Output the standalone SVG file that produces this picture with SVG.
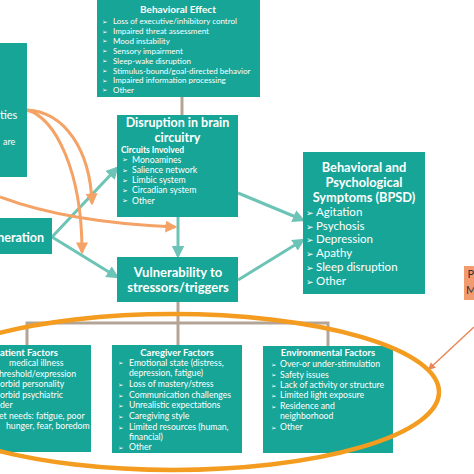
<svg xmlns="http://www.w3.org/2000/svg" width="474" height="474" viewBox="0 0 474 474">
<style>
.box{fill:#17a597}
.t{fill:#fff;font-family:Lato,"Open Sans","Liberation Sans",sans-serif}
.b{font-weight:bold}
.bul{fill:#fff;font-family:"DejaVu Sans",sans-serif}
.gray{stroke:#b4a496;stroke-width:3;fill:none}
.teal{stroke:#6cc4b6;stroke-width:3;fill:none}
.or{stroke:#f4a265;stroke-width:3;fill:none}
</style>
<defs>
<marker id="at" viewBox="0 0 10 10" refX="8" refY="5" markerWidth="4.2" markerHeight="4.2" orient="auto" markerUnits="strokeWidth"><path d="M0,0 L10,5 L0,10 z" fill="#6cc4b6"/></marker>
<marker id="ao" viewBox="0 0 10 10" refX="8" refY="5" markerWidth="4" markerHeight="4" orient="auto" markerUnits="strokeWidth"><path d="M0,0 L10,5 L0,10 z" fill="#f4a265"/></marker>
<marker id="ao2" viewBox="0 0 10 10" refX="8" refY="5" markerWidth="5" markerHeight="5" orient="auto" markerUnits="strokeWidth"><path d="M0,0 L10,5 L0,10 z" fill="#e8885a"/></marker>
</defs>

<g id="connectors">
<line class="gray" x1="182" y1="96" x2="182" y2="116"/>
<polyline class="gray" points="178,301 178,323"/>
<polyline class="gray" points="27,346 27,323 328,323 328,346"/>
<line class="gray" x1="178" y1="323" x2="178" y2="346"/>
<line class="teal" x1="178" y1="217" x2="178" y2="256" marker-end="url(#at)"/>
<line class="teal" x1="52" y1="237" x2="117" y2="168" marker-end="url(#at)"/>
<line class="teal" x1="52" y1="237" x2="117" y2="277" marker-end="url(#at)"/>
<line class="teal" x1="238" y1="193" x2="303" y2="220" marker-end="url(#at)"/>
<line class="teal" x1="238" y1="280" x2="303" y2="240" marker-end="url(#at)"/>
<path class="or" d="M27,110 C65,112 90,150 92,203" marker-end="url(#ao)"/>
<path class="or" d="M27,110 C55,118 82,170 82,252" marker-end="url(#ao)"/>
<path class="or" d="M0,197 C40,212 100,224 175,227" marker-end="url(#ao)"/>
<line x1="474" y1="327" x2="429" y2="369" stroke="#e8885a" stroke-width="1.5" marker-end="url(#ao2)"/>
</g>

<g id="behavioral-effect">
<rect class="box" x="97" y="-2" width="163" height="99"/>
<text class="t b" x="178" y="13" font-size="10" text-anchor="middle">Behavioral Effect</text>
<g font-size="6.5" class="bul"><text x="102" y="23.5">➢</text><text x="102" y="33.5">➢</text><text x="102" y="43">➢</text><text x="102" y="53">➢</text><text x="102" y="63">➢</text><text x="102" y="73">➢</text><text x="102" y="82.5">➢</text><text x="102" y="92">➢</text></g>
<g class="t" font-size="8">
<text x="113" y="24">Loss of executive/inhibitory control</text>
<text x="113" y="34">Impaired threat assessment</text>
<text x="113" y="43.5">Mood instability</text>
<text x="113" y="53.5">Sensory impairment</text>
<text x="113" y="63.5">Sleep-wake disruption</text>
<text x="113" y="73.5">Stimulus-bound/goal-directed behavior</text>
<text x="113" y="83">Impaired information processing</text>
<text x="113" y="92.5">Other</text>
</g>
</g>

<g id="left-box">
<rect class="box" x="-5" y="43" width="32" height="134"/>
<text class="t" x="0" y="119" font-size="11">ties</text>
<text class="t" x="3" y="145" font-size="9">are</text>
</g>

<g id="degeneration">
<rect class="box" x="-5" y="218" width="57" height="36"/>
<text class="t b" x="44" y="241.5" font-size="12.5" text-anchor="end">neration</text>
</g>

<g id="disruption">
<rect class="box" x="117" y="115" width="121" height="102"/>
<text class="t b" x="177.5" y="126.5" font-size="12.5" text-anchor="middle">Disruption in brain</text>
<text class="t b" x="177.5" y="141.5" font-size="12.5" text-anchor="middle">circuitry</text>
<text class="t b" x="121" y="152.5" font-size="8.5">Circuits Involved</text>
<g font-size="7" class="bul"><text x="122" y="162">➢</text><text x="122" y="172.5">➢</text><text x="122" y="182.5">➢</text><text x="122" y="192.5">➢</text><text x="122" y="203">➢</text></g>
<g class="t" font-size="8.7">
<text x="132" y="162.5">Monoamines</text>
<text x="132" y="173">Salience network</text>
<text x="132" y="183">Limbic system</text>
<text x="132" y="193">Circadian system</text>
<text x="132" y="203.5">Other</text>
</g>
</g>

<g id="vulnerability">
<rect class="box" x="117" y="257" width="121" height="45"/>
<text class="t b" x="178" y="277" font-size="13" text-anchor="middle">Vulnerability to</text>
<text class="t b" x="178" y="292" font-size="13" text-anchor="middle">stressors/triggers</text>
</g>

<g id="bpsd">
<rect class="box" x="303" y="152" width="122" height="142"/>
<text class="t b" x="364" y="171.5" font-size="12.8" text-anchor="middle">Behavioral and</text>
<text class="t b" x="364" y="186.5" font-size="12.8" text-anchor="middle">Psychological</text>
<text class="t b" x="364" y="201.5" font-size="12.8" text-anchor="middle">Symptoms (BPSD)</text>
<g font-size="9" class="bul"><text x="306" y="215.5">➢</text><text x="306" y="229.5">➢</text><text x="306" y="242.5">➢</text><text x="306" y="256.5">➢</text><text x="306" y="270.5">➢</text><text x="306" y="284.5">➢</text></g>
<g class="t" font-size="11.5">
<text x="316" y="216">Agitation</text>
<text x="316" y="230">Psychosis</text>
<text x="316" y="243">Depression</text>
<text x="316" y="257">Apathy</text>
<text x="316" y="271">Sleep disruption</text>
<text x="316" y="285">Other</text>
</g>
</g>

<g id="pm-box">
<rect x="464" y="266" width="15" height="34" fill="#f29b6e"/>
<text x="467.5" y="278" font-size="11" fill="#333" font-family="Lato,'Open Sans',sans-serif">P</text>
<text x="466" y="294" font-size="11" fill="#333" font-family="Lato,'Open Sans',sans-serif">M</text>
</g>

<g id="patient-factors">
<rect class="box" x="-5" y="345" width="96" height="107"/>
<text class="t b" x="0" y="356" font-size="9.5">atient Factors</text>
<g class="t" font-size="8.7">
<text x="9" y="366">medical illness</text>
<text x="-1" y="376.5">hreshold/expression</text>
<text x="0" y="387">orbid personality</text>
<text x="0" y="398">orbid psychiatric</text>
<text x="0" y="408">der</text>
<text x="-1" y="419">et needs: fatigue, poor</text>
<text x="6" y="429">hunger, fear, boredom</text>
</g>
</g>

<g id="caregiver-factors">
<rect class="box" x="112" y="345" width="130" height="108"/>
<text class="t b" x="177" y="356" font-size="9.5" text-anchor="middle">Caregiver Factors</text>
<g font-size="6.5" class="bul"><text x="118" y="365">➢</text><text x="118" y="386.5">➢</text><text x="118" y="397.5">➢</text><text x="118" y="407.5">➢</text><text x="118" y="418.5">➢</text><text x="118" y="429.5">➢</text><text x="118" y="449.5">➢</text></g>
<g class="t" font-size="8.7">
<text x="129" y="365.5">Emotional state (distress,</text>
<text x="129" y="376">depression, fatigue)</text>
<text x="129" y="387">Loss of mastery/stress</text>
<text x="129" y="398">Communication challenges</text>
<text x="129" y="408">Unrealistic expectations</text>
<text x="129" y="419">Caregiving style</text>
<text x="129" y="430">Limited resources (human,</text>
<text x="129" y="440">financial)</text>
<text x="129" y="450">Other</text>
</g>
</g>

<g id="environmental-factors">
<rect class="box" x="263" y="346" width="130" height="107"/>
<text class="t b" x="328" y="356" font-size="9.5" text-anchor="middle">Environmental Factors</text>
<g font-size="6.5" class="bul"><text x="271" y="366.5">➢</text><text x="271" y="377">➢</text><text x="271" y="387.5">➢</text><text x="271" y="397.5">➢</text><text x="271" y="408.5">➢</text><text x="271" y="429.5">➢</text></g>
<g class="t" font-size="8.7">
<text x="280" y="367">Over-or under-stimulation</text>
<text x="280" y="377.5">Safety issues</text>
<text x="280" y="388">Lack of activity or structure</text>
<text x="280" y="398">Limited light exposure</text>
<text x="280" y="409">Residence and</text>
<text x="280" y="419">neighborhood</text>
<text x="280" y="430">Other</text>
</g>
</g>

<g id="factors-ellipse">
<ellipse cx="173" cy="392" rx="266" ry="78" fill="none" stroke="#f39c1f" stroke-width="4.5"/>
</g>
</svg>
